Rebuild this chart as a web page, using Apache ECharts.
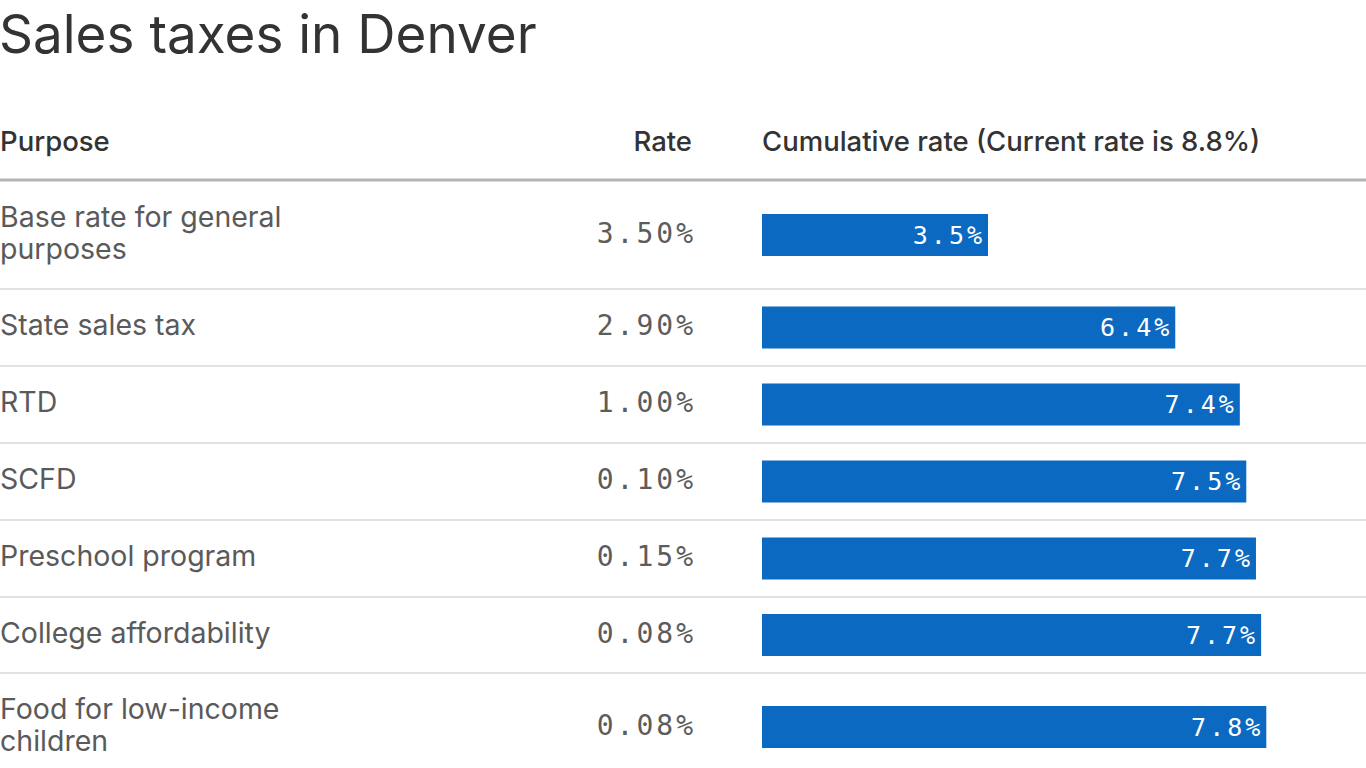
<!DOCTYPE html>
<html>
<head>
<meta charset="utf-8">
<script src="https://cdn.jsdelivr.net/npm/echarts@6/dist/echarts.min.js"></script>
<style>
html,body{margin:0;padding:0;background:#fff;}
#chart{width:1366px;height:768px;}
#chart text[style*="Mono"]{letter-spacing:3px;}
</style>
</head>
<body>
<div id="chart"></div>
<script>
// ---- data ----
const titleText = 'Sales taxes in Denver';
const headers = ['Purpose', 'Rate', 'Cumulative rate (Current rate is 8.8%)'];
const purposes = ['Base rate for general\npurposes', 'State sales tax', 'RTD', 'SCFD', 'Preschool program', 'College affordability', 'Food for low-income\nchildren'];
const rateLabels = ['3.50%', '2.90%', '1.00%', '0.10%', '0.15%', '0.08%', '0.08%'];
const cumulative = [3.5, 6.4, 7.4, 7.5, 7.65, 7.73, 7.81];
const cumulativeLabels = ['3.5%', '6.4%', '7.4%', '7.5%', '7.7%', '7.7%', '7.8%'];

// ---- layout ----
const rowTops = [181, 289, 366, 443, 520, 597, 673];
const rowHeights = [108, 77, 77, 77, 77, 76, 108];
const barH = 42;
const barLeft = 762;
const axisMax = 9.354;
const sans = 'Inter, "Noto Sans", sans-serif';
const mono = '"DejaVu Sans Mono", "Liberation Mono", monospace';

const grids = [], xAxes = [], yAxes = [], series = [], graphics = [];

graphics.push({type:'text', x:-1, y:34, style:{text:titleText, font:'400 53px ' + sans, fill:'#333', textVerticalAlign:'middle'}});
graphics.push({type:'text', x:0, y:141, style:{text:headers[0], font:'500 27.5px ' + sans, fill:'#333', textVerticalAlign:'middle'}});
graphics.push({type:'text', x:692, y:141, style:{text:headers[1], font:'500 27.5px ' + sans, fill:'#333', textAlign:'right', textVerticalAlign:'middle'}});
graphics.push({type:'text', x:762, y:141, style:{text:headers[2], font:'500 27.5px ' + sans, fill:'#333', textVerticalAlign:'middle'}});
graphics.push({type:'rect', shape:{x:0, y:178.5, width:1366, height:3}, style:{fill:'#b3b3b3'}});

purposes.forEach((p, i) => {
  const top = rowTops[i], h = rowHeights[i];
  const cy = top + h / 2;
  grids.push({left: barLeft, right: 0, top: cy - barH / 2, height: barH, containLabel: false});
  xAxes.push({type:'value', gridIndex:i, min:0, max:axisMax, show:false});
  yAxes.push({type:'category', gridIndex:i, data:[p], show:false});
  series.push({
    type:'bar', xAxisIndex:i, yAxisIndex:i, barWidth: barH,
    data:[cumulative[i]],
    itemStyle:{color:'#0b69c1'},
    label:{show:true, position:'insideRight', distance:3, formatter: () => cumulativeLabels[i],
      color:'#fff', fontFamily: mono, fontSize: 25},
    silent:true, animation:false
  });
  graphics.push({type:'text', x:0, y:cy - 3, style:{text:p, font:'400 28.5px ' + sans, fill:'#5a5a5a', textVerticalAlign:'middle', lineHeight:32}});
  graphics.push({type:'text', x:696, y:cy - 2, style:{text:rateLabels[i], font:'28px ' + mono, fill:'#5c5c5c', textAlign:'right', textVerticalAlign:'middle'}});
  if (i > 0) {
    graphics.push({type:'rect', shape:{x:0, y:top - 1, width:1366, height:2}, style:{fill:'#e2e2e2'}});
  }
});

const chart = echarts.init(document.getElementById('chart'), null, {renderer:'svg'});
chart.setOption({
  animation:false,
  grid: grids, xAxis: xAxes, yAxis: yAxes, series: series,
  graphic: graphics
});
</script>
</body>
</html>
